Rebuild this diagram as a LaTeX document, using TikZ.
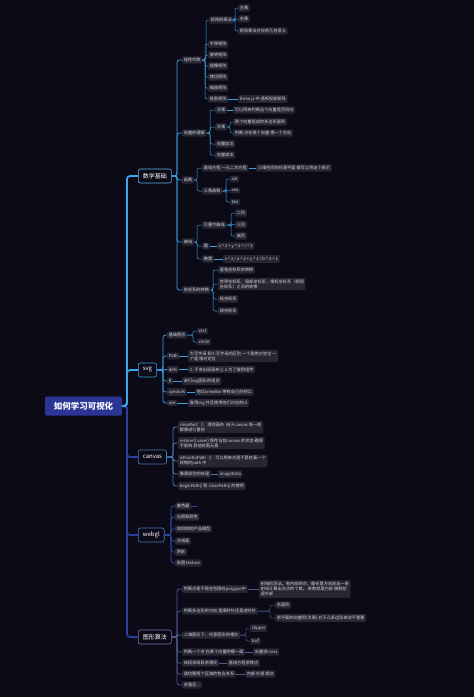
\documentclass[tikz,border=0pt]{standalone}
\usepackage{fontspec}
\setmainfont{Noto Sans CJK SC}
\definecolor{bg}{HTML}{0C0A17}
\definecolor{leaffill}{HTML}{272633}
\definecolor{leaftxt}{HTML}{D6D6DC}
\definecolor{rootfill}{HTML}{2B3595}
\definecolor{spineup}{HTML}{3BA8EE}
\definecolor{spinedn}{HTML}{2A3FA0}
\definecolor{cmath}{HTML}{3A9FE0}
\definecolor{csvg}{HTML}{3A9FE0}
\definecolor{ccanvas}{HTML}{4A78B8}
\definecolor{cwebgl}{HTML}{2F50A8}
\definecolor{calgo}{HTML}{4A5A90}
\newcommand{\mmlink}[4]{\foreach \cn in {#4}{\draw[#1] (#2.east) -| ([xshift=-#3]\cn.west) -- (\cn.west);}}
\begin{document}
\begin{tikzpicture}[x=1pt,y=-1pt,
  leaf/.style={fill=leaffill, rounded corners=1pt, text=leaftxt, font=\fontsize{4.2}{5.2}\selectfont, inner xsep=1.6pt, inner ysep=1.6pt, anchor=west},
  mainn/.style={fill=bg, draw=#1, line width=0.6pt, rounded corners=2pt, text=white, font=\fontsize{6}{7}\selectfont, minimum height=14pt, inner xsep=4.5pt, anchor=west},
  rootn/.style={fill=rootfill, rounded corners=1.5pt, text=white, font=\fontsize{8.5}{10}\selectfont\bfseries, minimum width=77pt, minimum height=19pt},
  lk/.style={draw=#1, line width=0.5pt, rounded corners=2pt},
  lkm/.style={draw=#1, line width=0.8pt, rounded corners=2.5pt},
  spu/.style={draw=spineup, line width=1.8pt, rounded corners=3pt},
  spd/.style={draw=spinedn, line width=1.8pt, rounded corners=3pt}]
\fill[bg] (0,0) rectangle (474,697);
\useasboundingbox (0,0) rectangle (474,697);

% root and main branches
\node[rootn] (root) at (83.5,406) {如何学习可视化};
\node[mainn=cmath!80!white] (m1) at (138,176) {数学基础};
\node[mainn=csvg] (m2) at (138,370) {svg};
\node[mainn=ccanvas] (m3) at (138,457) {canvas};
\node[mainn=ccanvas] (m4) at (138,535) {webgl};
\node[mainn=calgo!80!white] (m5) at (138,637) {图形算法};
\foreach \m in {m3,m4,m5} \draw[spd] (root.east) -| ([xshift=-11pt]\m.west) -- (\m.west);
\foreach \m in {m1,m2} \draw[spu] (root.east) -| ([xshift=-11pt]\m.west) -- (\m.west);

% ---------- 数学基础
\node[leaf] (a1) at (182,60) {线性代数};
\node[leaf] (a2) at (182,133) {向量的理解};
\node[leaf] (a3) at (182,180) {函数};
\node[leaf] (a4) at (182,242) {曲线};
\node[leaf] (a5) at (182,290) {坐标系的转换};
\mmlink{lkm=cmath}{m1}{5pt}{a1,a2,a3,a4,a5}

\node[leaf] (a11) at (209,20) {矩阵的乘法};
\node[leaf] (a12) at (208,44) {平移矩阵};
\node[leaf] (a13) at (208,55) {旋转矩阵};
\node[leaf] (a14) at (208,66) {镜像矩阵};
\node[leaf] (a15) at (208,77) {错切矩阵};
\node[leaf] (a16) at (208,88) {缩放矩阵};
\node[leaf] (a17) at (208,99) {投影矩阵};
\mmlink{lk=cmath}{a1}{3pt}{a11,a12,a13,a14,a15,a16,a17}
\node[leaf] (a111) at (238,8) {左乘};
\node[leaf] (a112) at (238,19) {右乘};
\node[leaf] (a113) at (238,31) {矩阵乘法对应的几何意义};
\mmlink{lk=cmath}{a11}{3pt}{a111,a112,a113}
\node[leaf] (a171) at (238,99) {three.js 中 透视投影矩阵};
\draw[lk=cmath] (a17) -- (a171);

\node[leaf] (a21) at (215,110) {点乘};
\node[leaf] (a22) at (215,127) {叉乘};
\node[leaf] (a23) at (215,144) {向量加法};
\node[leaf] (a24) at (215,155) {向量减法};
\mmlink{lk=cmath}{a2}{5pt}{a21,a22,a23,a24}
\node[leaf] (a211) at (233,110) {可以用来判断这个向量是否同向};
\draw[lk=cmath] (a21) -- (a211);
\node[leaf] (a221) at (233,122) {两个向量组成的多边形面积};
\node[leaf] (a222) at (233,133) {判断 点在某个向量 哪一个方向};
\mmlink{lk=cmath}{a22}{3pt}{a221,a222}

\node[leaf] (a31) at (202,168) {直线方程 一元二次方程};
\node[leaf] (a32) at (202,191) {三角函数};
\mmlink{lk=cmath}{a3}{5pt}{a31,a32}
\node[leaf] (a311) at (256,168) {三维空间的任意平面 都可以用这个表示};
\draw[lk=cmath] (a31) -- (a311);
\node[leaf] (a321) at (230,179) {sin};
\node[leaf] (a322) at (230,190.5) {cos};
\node[leaf] (a323) at (230,202) {tan};
\mmlink{lk=cmath}{a32}{4pt}{a321,a322,a323}

\node[leaf] (a41) at (202,225) {贝塞尔曲线};
\node[leaf] (a42) at (202,246) {圆};
\node[leaf] (a43) at (202,259) {椭圆};
\mmlink{lk=cmath}{a4}{5pt}{a41,a42,a43}
\node[leaf] (a411) at (235,213) {二阶};
\node[leaf] (a412) at (235,224.5) {三阶};
\node[leaf] (a413) at (235,236) {高阶};
\mmlink{lk=cmath}{a41}{4pt}{a411,a412,a413}
\node[leaf] (a421) at (217,246) {x \textasciicircum{} 2 + y \textasciicircum{} 2 = r \textasciicircum{} 2};
\draw[lk=cmath] (a42) -- (a421);
\node[leaf] (a431) at (223,259) {x \textasciicircum{} 2 / a \textasciicircum{} 2 + y \textasciicircum{} 2 / b \textasciicircum{} 2 = 1};
\draw[lk=cmath] (a43) -- (a431);

\node[leaf] (a51) at (218,270) {直角坐标系的转换};
\node[leaf, align=left] (a52) at (218,284) {世界坐标系，局部坐标系，相机坐标系（视图\\坐标系）之间的转换};
\node[leaf] (a53) at (218,299) {极坐标系};
\node[leaf] (a54) at (218,311) {球坐标系};
\mmlink{lk=cmath}{a5}{5pt}{a51,a52,a53,a54}

% ---------- svg
\node[leaf] (b1) at (167,335) {基础图形};
\node[leaf] (b2) at (167,356) {Path};
\node[leaf] (b3) at (167,369.5) {defs};
\node[leaf] (b4) at (167,381) {g};
\node[leaf] (b5) at (167,392) {symbols};
\node[leaf] (b6) at (167,403) {use};
\mmlink{lkm=csvg}{m2}{4pt}{b1,b2,b3,b4,b5,b6}
\node[leaf] (b11) at (197,331) {rect};
\node[leaf] (b12) at (197,342) {circle};
\mmlink{lk=csvg}{b1}{4pt}{b11,b12}
\node[leaf, align=left] (b21) at (188,356) {大写字母 和小写字母的区别 一个是绝对定位 一\\个是 相对定位};
\draw[lk=csvg] (b2) -- (b21);
\node[leaf] (b31) at (188,369.5) {1. 不会出现画布上 2.为了复用组件};
\draw[lk=csvg] (b3) -- (b31);
\node[leaf] (b41) at (182,381) {进行svg图形的组合};
\draw[lk=csvg] (b4) -- (b41);
\node[leaf] (b51) at (195,392) {他比viewBox 带有自己的视口};
\draw[lk=csvg] (b5) -- (b51);
\node[leaf] (b61) at (188,403) {复用svg 并且使用他们对应的id};
\draw[lk=csvg] (b6) -- (b61);

% ---------- canvas
\node[leaf, align=left] (c1) at (178,427) {clearRect（） 清除画布 \ 由于canvas 每一帧\\都要进行重绘};
\node[leaf, align=left] (c2) at (178,443) {restore() save() 保存当前canvas 的状态 确保\\不影响 其他绘图元素};
\node[leaf, align=left] (c3) at (178,461) {isPointInPath（） 可以用来点是不是在画一个\\绘制的path 中};
\node[leaf] (c4) at (178,474) {像素级别的处理};
\node[leaf] (c5) at (178,486) {beginPath() 和 closePath() 的使用};
\mmlink{lkm=ccanvas}{m3}{5pt}{c1,c2,c3,c4,c5}
\node[leaf] (c41) at (218,474) {imageData};
\draw[lk=ccanvas] (c4) -- (c41);

% ---------- webgl
\node[leaf] (w1) at (175,506) {着色器};
\node[leaf] (w2) at (175,517) {光照和颜色};
\node[leaf] (w3) at (175,529) {如何绘制产品模型};
\node[leaf] (w4) at (175,541) {点线面};
\node[leaf] (w5) at (175,552) {阴影};
\node[leaf] (w6) at (175,563) {贴图 texture};
\mmlink{lkm=cwebgl}{m4}{4pt}{w1,w2,w3,w4,w5,w6}
\coordinate (w1s) at (197,506);
\draw[lk=cwebgl] (w1) -- (w1s);

% ---------- 图形算法
\node[leaf] (d1) at (182,589) {判断点是不是在包围在polygon中};
\node[leaf] (d2) at (182,611) {判断多边形的方向 是顺时针还是逆时针};
\node[leaf] (d3) at (182,635) {二维图形下，任意图形的相交};
\node[leaf] (d4) at (182,652) {判断一个点 在某个向量的哪一面};
\node[leaf] (d5) at (182,663) {线段求线段求相交};
\node[leaf] (d6) at (182,674) {请估算两个区域的包含关系};
\node[leaf] (d7) at (182,685) {求垂足...};
\mmlink{lkm=calgo}{m5}{5pt}{d1,d2,d3,d4,d5,d6,d7}
\node[leaf, align=left] (d11) at (259,589) {射线检测法。有内部的点，像任意方向发出一条\\射线计算出交点的个数。 奇数就是内部 偶数就\\是外部};
\draw[lk=calgo] (d1) -- (d11);
\node[leaf] (d21) at (275,605) {求面积};
\node[leaf] (d22) at (275,618) {求平面的向量积(叉乘) 对于凸多边形来说不重要};
\mmlink{lk=calgo}{d2}{5pt}{d21,d22}
\node[leaf] (d31) at (250,628) {clipper};
\node[leaf] (d32) at (250,641) {turf};
\mmlink{lk=calgo}{d3}{4pt}{d31,d32}
\node[leaf] (d41) at (253,652) {向量求cross};
\draw[lk=calgo] (d4) -- (d41);
\node[leaf] (d51) at (227,663) {直线方程求焦点};
\draw[lk=calgo] (d5) -- (d51);
\node[leaf] (d61) at (245,674) {内部 外部 相交};
\draw[lk=calgo] (d6) -- (d61);
\end{tikzpicture}
\end{document}
